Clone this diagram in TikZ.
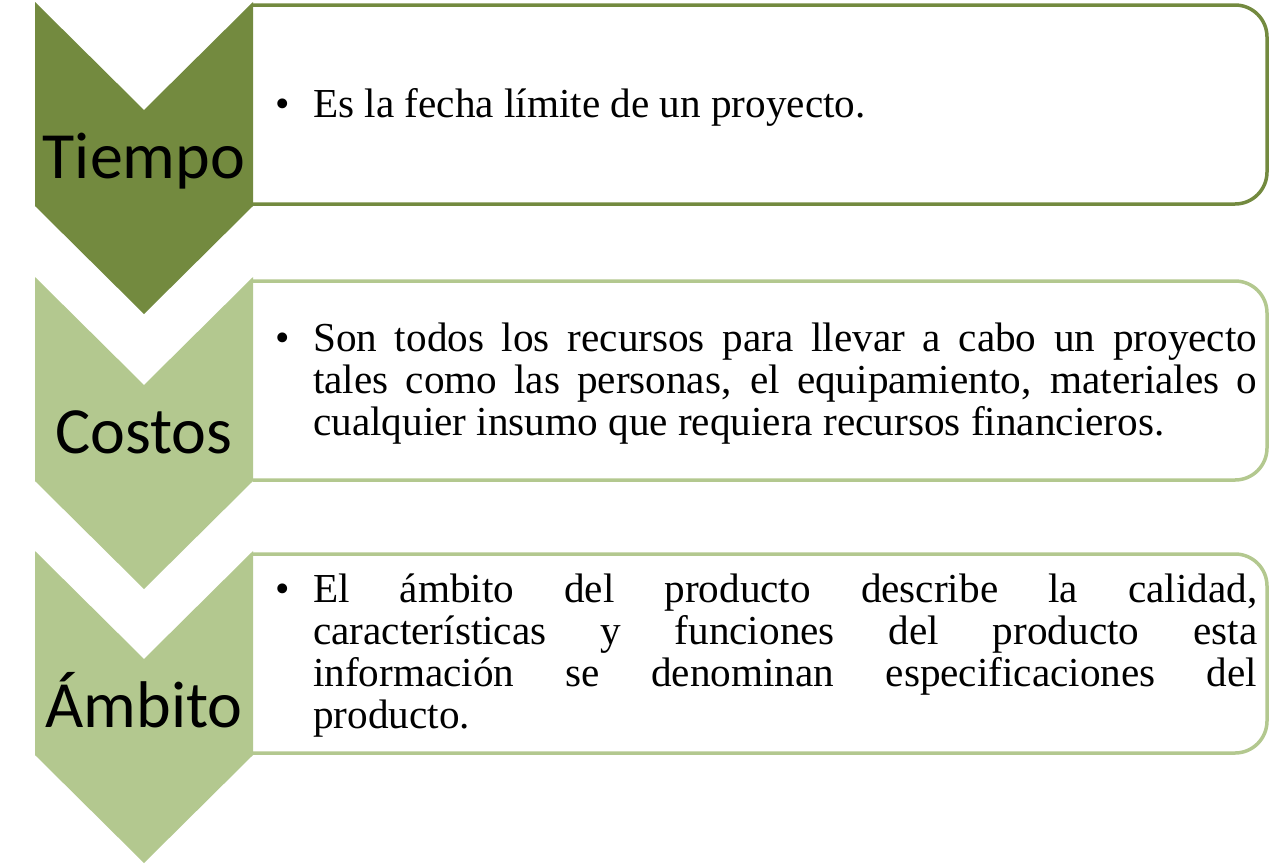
\documentclass[tikz,border=0pt]{standalone}
\usepackage{fontspec}
\usepackage{tikz}
\newfontfamily\textoserif{Liberation Serif}
\newfontfamily\rotulo{Carlito}
\definecolor{verdeoscuro}{RGB}{115,138,63}
\definecolor{verdeclaro}{RGB}{179,200,143}
\newcommand{\bala}{\llap{\textbullet\hspace{23pt}}}
\hyphenpenalty=10000
\tolerance=10000
\tikzset{
  caja/.style={line width=3.5pt, rounded corners=32pt},
  rotulocaja/.style={anchor=base, inner sep=0pt, font=\rotulo\fontsize{66}{70}\selectfont},
  texto/.style={anchor=west, inner sep=0pt, text width=944pt, align=justify,
    font=\textoserif\fontsize{41.2}{42}\selectfont}
}
\begin{document}
\begin{tikzpicture}[x=1pt,y=-1pt]
        \useasboundingbox (0,0) rectangle (1281,865);
        % cajas de texto
        \draw[caja, verdeoscuro] (253,5) -- (1267,5) -- (1267,204) -- (253,204);
        \draw[caja, verdeclaro] (253,281) -- (1267,281) -- (1267,480) -- (253,480);
        \draw[caja, verdeclaro] (253,554) -- (1267,554) -- (1267,753) -- (253,753);
        % flechas
        \fill[verdeoscuro] (35,2) -- (144,110) -- (253,2) -- (253,206) -- (144,314) -- (35,206) -- cycle;
        \fill[verdeclaro] (35,277) -- (144,385) -- (253,277) -- (253,481) -- (144,589) -- (35,481) -- cycle;
        \fill[verdeclaro] (35,551) -- (144,659) -- (253,551) -- (253,755) -- (144,863) -- (35,755) -- cycle;
        \node[rotulocaja] (tiempo) at (144,178) {Tiempo};
        \node[rotulocaja] (costos) at (144,453) {Costos};
        \node[rotulocaja] (ambito) at (144,727) {Ámbito};
		\node[texto] (tiempotexto) at (313,107)
        {\bala Es la fecha límite de un proyecto.};
		\node[texto] (costostexto) at (313,384)
        {\bala Son todos los recursos para llevar a cabo un proyecto\linebreak
         tales como las personas, el equipamiento, materiales o\linebreak
         cualquier insumo que requiera recursos financieros.};
		\node[texto] (ambitotexto) at (313,656)
        {\bala El ámbito del producto describe la calidad,\linebreak
         características y funciones del producto esta\linebreak
         información se denominan especificaciones del\linebreak
         producto.};
       \end{tikzpicture}
\end{document}
